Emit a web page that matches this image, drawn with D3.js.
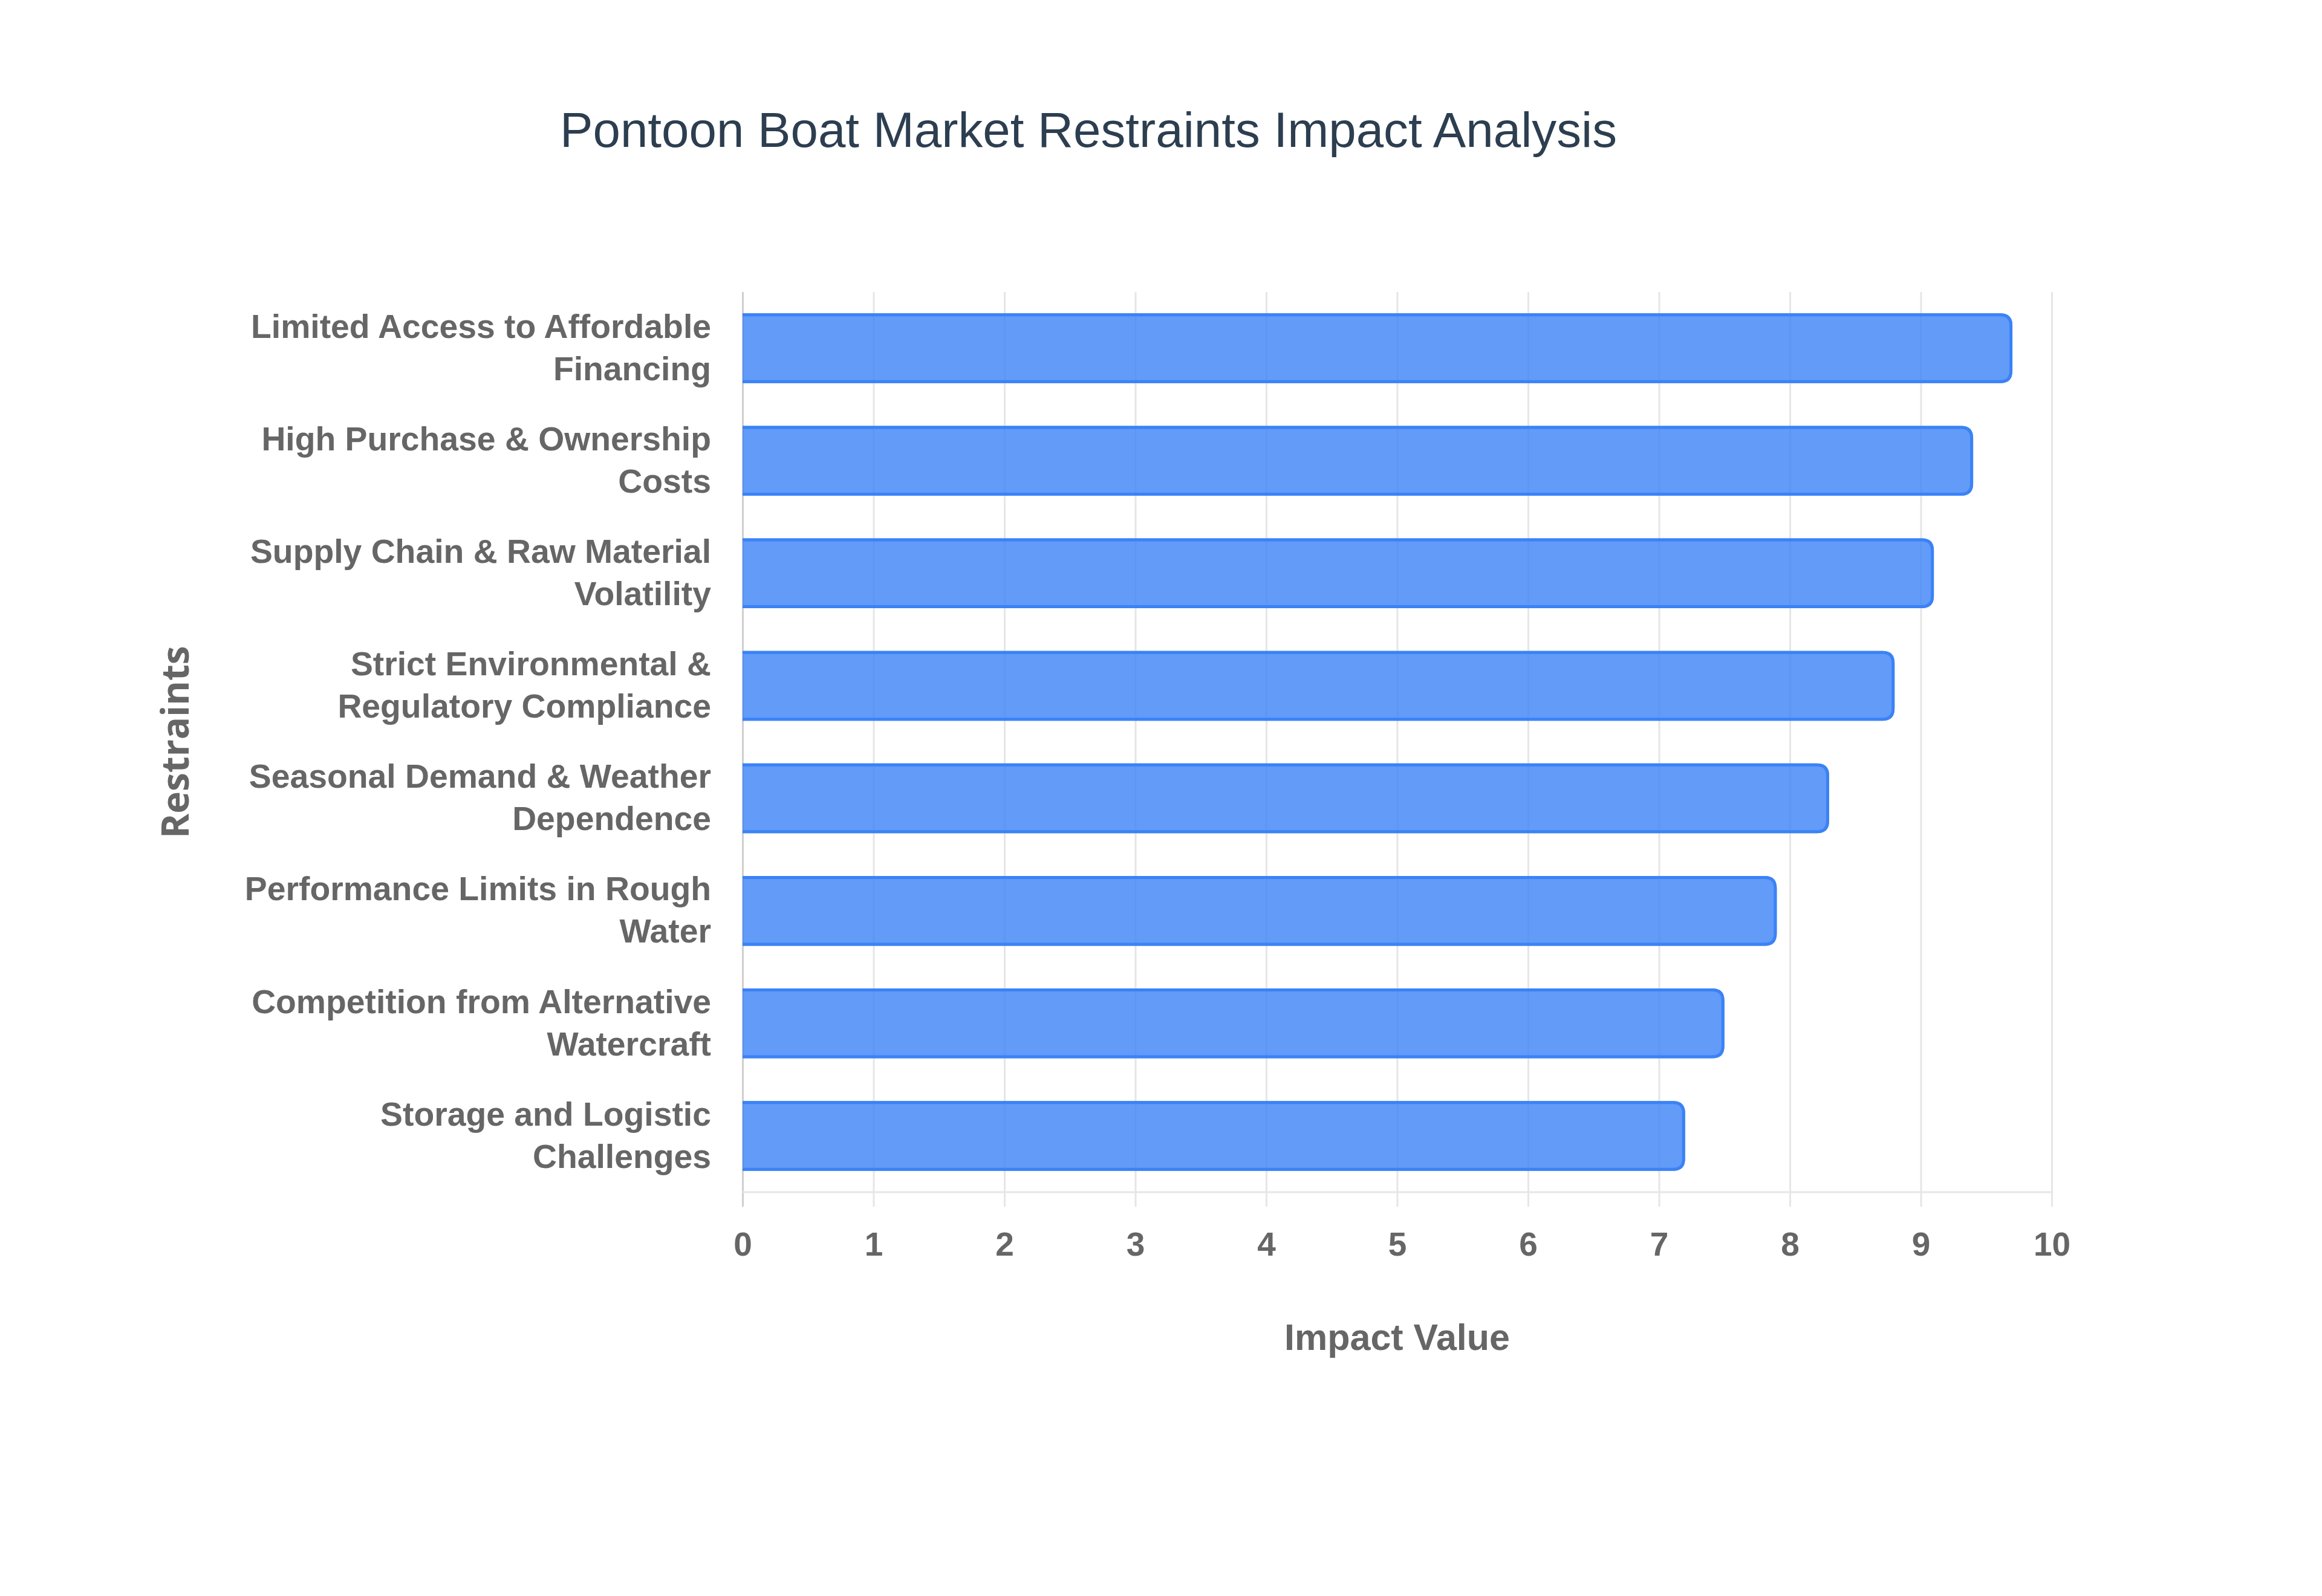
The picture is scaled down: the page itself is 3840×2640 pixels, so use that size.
<!DOCTYPE html>
<html>
<head>
<meta charset="utf-8">
<script src="https://cdn.jsdelivr.net/npm/d3@7"></script>
<style>
  body { margin: 0; background: #fff; }
  svg { display: block; }
</style>
</head>
<body>
<svg id="chart" width="3840" height="2640"></svg>
<script>
// data
const categories = [
  "Limited Access to Affordable Financing",
  "High Purchase & Ownership Costs",
  "Supply Chain & Raw Material Volatility",
  "Strict Environmental & Regulatory Compliance",
  "Seasonal Demand & Weather Dependence",
  "Performance Limits in Rough Water",
  "Competition from Alternative Watercraft",
  "Storage and Logistic Challenges"
];
const impactValues = [9.7, 9.4, 9.1, 8.8, 8.3, 7.9, 7.5, 7.2];
const categoryLines = [
  ["Limited Access to Affordable", "Financing"],
  ["High Purchase & Ownership", "Costs"],
  ["Supply Chain & Raw Material", "Volatility"],
  ["Strict Environmental &", "Regulatory Compliance"],
  ["Seasonal Demand & Weather", "Dependence"],
  ["Performance Limits in Rough", "Water"],
  ["Competition from Alternative", "Watercraft"],
  ["Storage and Logistic", "Challenges"]
];
const xTickValues = [0, 1, 2, 3, 4, 5, 6, 7, 8, 9, 10];

const svg = d3.select("#chart");
const width = +svg.attr("width"), height = +svg.attr("height");
const plot = { left: 1228, right: 3393, top: 483, bottom: 1972 };

svg.append("rect")
  .attr("width", width)
  .attr("height", height)
  .attr("fill", "#ffffff");

const x = d3.scaleLinear().domain([0, 10]).range([plot.left, plot.right]);
const y = d3.scaleBand()
  .domain(categories)
  .range([plot.top, plot.bottom])
  .paddingInner(0.38)
  .paddingOuter(0.19);

const labelFont = "'Liberation Sans', Arial, Helvetica, sans-serif";

// Title
svg.append("text")
  .attr("x", 1800)
  .attr("y", 243)
  .attr("text-anchor", "middle")
  .style("font-family", labelFont)
  .style("font-size", "81.7px")
  .style("fill", "#2c3e50")
  .text("Pontoon Boat Market Restraints Impact Analysis");

// x grid + tick labels
const tickBottom = plot.bottom + 24;
const xAxis = svg.append("g")
  .attr("transform", `translate(0,${tickBottom})`)
  .call(d3.axisBottom(x)
    .tickValues(xTickValues)
    .tickSizeInner(-(tickBottom - plot.top))
    .tickSizeOuter(0)
    .tickPadding(42)
    .tickFormat(d3.format("d")));

xAxis.select(".domain").remove();
xAxis.selectAll(".tick line")
  .attr("stroke", d => d === 0 ? "#cfcfcf" : "#e6e6e6")
  .attr("stroke-width", 3);
xAxis.selectAll(".tick text")
  .style("font-family", labelFont)
  .style("font-size", "55px")
  .style("font-weight", "bold")
  .style("fill", "#666666");

// bottom border
svg.append("line")
  .attr("x1", x(0))
  .attr("x2", x(10))
  .attr("y1", plot.bottom)
  .attr("y2", plot.bottom)
  .attr("stroke", "#e6e6e6")
  .attr("stroke-width", 3);

// Bars (rounded on the value end, no border on the base)
const bw = 5, radius = 20;
const bars = svg.append("g").attr("class", "bars");

categories.forEach((c, i) => {
  const x0 = x(0), x1 = x(impactValues[i]);
  const y0 = y(c), h = y.bandwidth();
  const r = Math.min(radius, h / 2, x1 - x0);
  const fillPath = `M${x0},${y0} H${x1 - r} Q${x1},${y0} ${x1},${y0 + r} V${y0 + h - r} Q${x1},${y0 + h} ${x1 - r},${y0 + h} H${x0} Z`;
  bars.append("path")
    .attr("d", fillPath)
    .attr("fill", "rgba(59,130,246,0.8)");

  const s = bw / 2;
  const rs = r - s;
  const strokePath = `M${x0},${y0 + s} H${x1 - s - rs} Q${x1 - s},${y0 + s} ${x1 - s},${y0 + s + rs} V${y0 + h - s - rs} Q${x1 - s},${y0 + h - s} ${x1 - s - rs},${y0 + h - s} H${x0}`;
  bars.append("path")
    .attr("d", strokePath)
    .attr("fill", "none")
    .attr("stroke", "#3b82f6")
    .attr("stroke-width", bw);
});

// y axis labels (two lines each)
const yAxis = svg.append("g")
  .attr("transform", `translate(${plot.left},0)`)
  .call(d3.axisLeft(y).tickSize(0).tickPadding(52));

yAxis.select(".domain").remove();
const lineHeight = 70;
yAxis.selectAll(".tick text").each(function(d) {
  const lines = categoryLines[categories.indexOf(d)];
  const t = d3.select(this).text(null)
    .attr("dy", null)
    .style("font-family", labelFont)
    .style("font-size", "55.3px")
    .style("font-weight", "bold")
    .style("fill", "#666666");
  lines.forEach((ln, j) => {
    t.append("tspan")
      .attr("x", -52)
      .attr("y", (j - (lines.length - 1) / 2) * lineHeight)
      .attr("dy", "0.32em")
      .text(ln);
  });
});

// Axis titles
svg.append("text")
  .attr("x", (plot.left + plot.right) / 2)
  .attr("y", 2233)
  .attr("text-anchor", "middle")
  .style("font-family", labelFont)
  .style("font-size", "61px")
  .style("font-weight", "bold")
  .style("fill", "#666666")
  .text("Impact Value");

svg.append("text")
  .attr("transform", `translate(312,${(plot.top + plot.bottom) / 2}) rotate(-90)`)
  .attr("text-anchor", "middle")
  .style("font-family", "'Open Sans', 'Noto Sans', sans-serif")
  .style("font-size", "62px")
  .style("font-weight", "bold")
  .style("fill", "#666666")
  .text("Restraints");
</script>
</body>
</html>
